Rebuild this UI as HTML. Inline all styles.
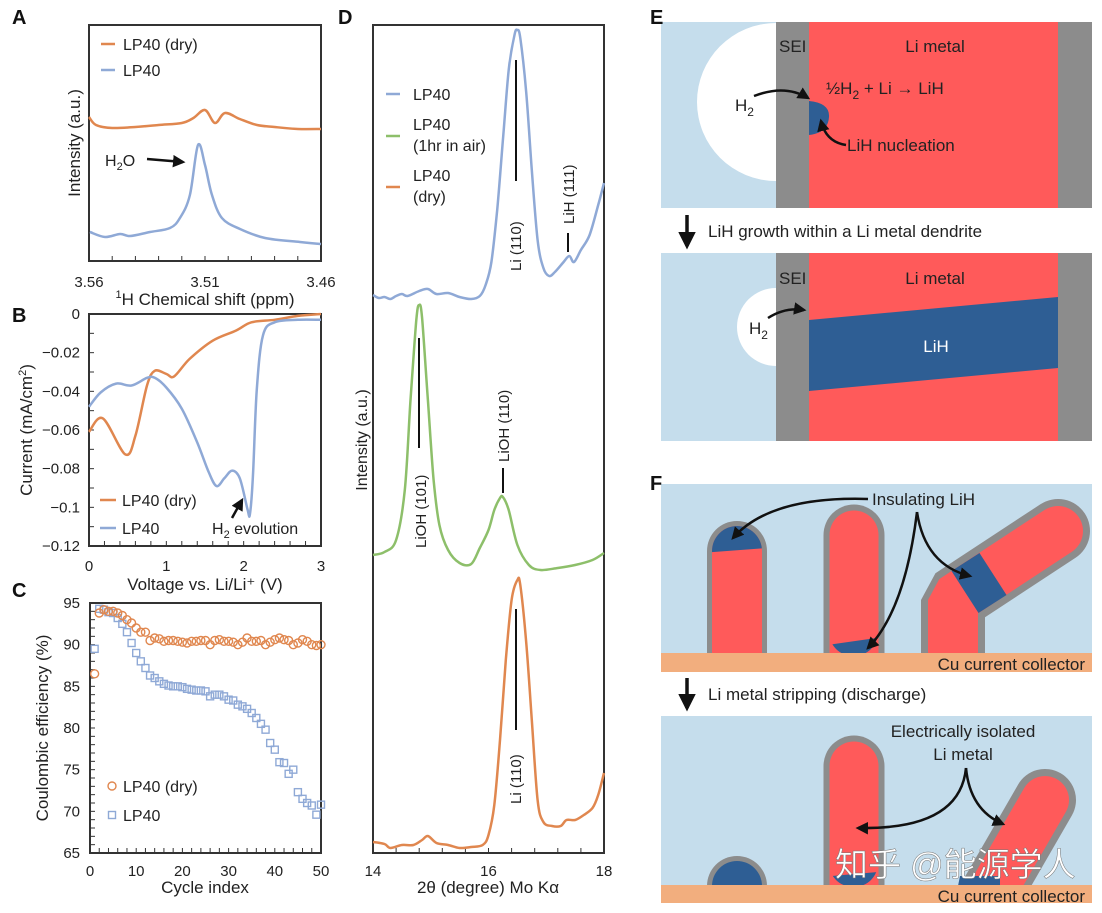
<!DOCTYPE html>
<html><head><meta charset="utf-8"><style>
html,body{margin:0;padding:0;background:#fff}
svg{display:block;font-family:"Liberation Sans","Noto Sans CJK SC",sans-serif}
</style></head><body>
<svg id="fig" width="1102" height="913" viewBox="0 0 1102 913" xmlns="http://www.w3.org/2000/svg">
<defs>
<marker id="ah" viewBox="0 0 10 10" refX="8" refY="5" markerWidth="5" markerHeight="5" orient="auto-start-reverse"><path d="M0,0L10,5L0,10z" fill="#111"/></marker>
<clipPath id="clipE1"><rect x="661" y="22" width="431" height="186"/></clipPath>
<clipPath id="clipE2"><rect x="661" y="253" width="431" height="188"/></clipPath>
<clipPath id="clipF1"><rect x="661" y="484" width="431" height="188"/></clipPath>
<clipPath id="clipF2"><rect x="661" y="716" width="431" height="187"/></clipPath>
<clipPath id="clipD1"><rect x="712" y="526" width="50" height="130" rx="25"/></clipPath>
<clipPath id="clipD2"><rect x="829" y="510" width="49" height="146" rx="24"/></clipPath>
<clipPath id="clipD3"><rect x="829" y="741" width="49" height="146" rx="24"/></clipPath>
</defs>
<g id="charts"></g>

<!-- Panel E -->
<g>
<g clip-path="url(#clipE1)">
<rect x="661" y="22" width="431" height="186" fill="#C5DDEC"/>
<circle cx="776" cy="102" r="79" fill="#fff"/>
<rect x="776" y="22" width="33" height="186" fill="#8C8C8C"/>
<rect x="809" y="22" width="249" height="186" fill="#FF5A5A"/>
<rect x="1058" y="22" width="34" height="186" fill="#8C8C8C"/>
<path d="M809,101 Q830,103 829,117 Q828,133 809,135 Z" fill="#2E5E94"/>
</g>
<text x="779" y="52" font-size="17" fill="#222">SEI</text>
<text x="935" y="52" font-size="17" fill="#222" text-anchor="middle">Li metal</text>
<text x="826" y="94" font-size="17" fill="#222">½H<tspan font-size="12" dy="5">2</tspan><tspan dy="-5"> + Li → LiH</tspan></text>
<text x="735" y="111" font-size="17" fill="#222">H<tspan font-size="12" dy="5">2</tspan></text>
<path d="M754,96 Q785,84 808,98" fill="none" stroke="#111" stroke-width="2.5" marker-end="url(#ah)"/>
<text x="847" y="151" font-size="17" fill="#222">LiH nucleation</text>
<path d="M846,145 Q826,142 821,121" fill="none" stroke="#111" stroke-width="2.5" marker-end="url(#ah)"/>
<line x1="687" y1="215" x2="687" y2="246" stroke="#111" stroke-width="3.5" marker-end="url(#ah)"/>
<text x="708" y="237" font-size="17" fill="#222">LiH growth within a Li metal dendrite</text>
<g clip-path="url(#clipE2)">
<rect x="661" y="253" width="431" height="188" fill="#C5DDEC"/>
<circle cx="776" cy="327" r="39" fill="#fff"/>
<rect x="776" y="253" width="33" height="188" fill="#8C8C8C"/>
<rect x="809" y="253" width="249" height="188" fill="#FF5A5A"/>
<rect x="1058" y="253" width="34" height="188" fill="#8C8C8C"/>
<polygon points="809,320 1058,297 1058,368 809,391" fill="#2E5E94"/>
</g>
<text x="779" y="284" font-size="17" fill="#222">SEI</text>
<text x="935" y="284" font-size="17" fill="#222" text-anchor="middle">Li metal</text>
<text x="749" y="334" font-size="17" fill="#222">H<tspan font-size="12" dy="5">2</tspan></text>
<path d="M768,318 Q785,307 804,310" fill="none" stroke="#111" stroke-width="2.5" marker-end="url(#ah)"/>
<text x="936" y="352" font-size="17" fill="#fff" text-anchor="middle">LiH</text>
</g>

<!-- Panel F -->
<g>
<g clip-path="url(#clipF1)">
<rect x="661" y="484" width="431" height="188" fill="#C5DDEC"/>
<line x1="737" y1="551" x2="737" y2="700" stroke="#8C8C8C" stroke-width="60" stroke-linecap="round"/>
<line x1="737" y1="551" x2="737" y2="700" stroke="#FF5A5A" stroke-width="50" stroke-linecap="round"/>
<polygon points="700,500 780,500 780,547 700,553" fill="#2E5E94" clip-path="url(#clipD1)"/>
<line x1="854" y1="535" x2="854" y2="700" stroke="#8C8C8C" stroke-width="61" stroke-linecap="round"/>
<line x1="854" y1="535" x2="854" y2="700" stroke="#FF5A5A" stroke-width="49" stroke-linecap="round"/>
<polygon points="820,646 890,636 890,660 820,660" fill="#2E5E94" clip-path="url(#clipD2)"/>
<path d="M953,710 L953,600 L1058,531" fill="none" stroke="#8C8C8C" stroke-width="64" stroke-linejoin="bevel" stroke-linecap="round"/>
<path d="M953,710 L953,600 L1058,531" fill="none" stroke="#FF5A5A" stroke-width="50" stroke-linejoin="bevel" stroke-linecap="round"/>
<line x1="965" y1="592" x2="993" y2="574" stroke="#2E5E94" stroke-width="50"/>
<rect x="661" y="653" width="431" height="19" fill="#F2AE7E"/>
</g>
<text x="1085" y="670" font-size="17" fill="#222" text-anchor="end">Cu current collector</text>
<text x="872" y="505" font-size="17" fill="#222">Insulating LiH</text>
<path d="M868,499 Q770,496 733,538" fill="none" stroke="#111" stroke-width="2.5" marker-end="url(#ah)"/>
<path d="M917,512 Q905,610 868,648" fill="none" stroke="#111" stroke-width="2.5" marker-end="url(#ah)"/>
<path d="M917,512 Q925,565 970,576" fill="none" stroke="#111" stroke-width="2.5" marker-end="url(#ah)"/>
<line x1="687" y1="678" x2="687" y2="708" stroke="#111" stroke-width="3.5" marker-end="url(#ah)"/>
<text x="708" y="700" font-size="17" fill="#222">Li metal stripping (discharge)</text>
<g clip-path="url(#clipF2)">
<rect x="661" y="716" width="431" height="187" fill="#C5DDEC"/>
<circle cx="737" cy="886" r="30" fill="#8C8C8C"/>
<circle cx="737" cy="886" r="25" fill="#2E5E94"/>
<line x1="854" y1="766" x2="854" y2="930" stroke="#8C8C8C" stroke-width="61" stroke-linecap="round"/>
<line x1="854" y1="766" x2="854" y2="930" stroke="#FF5A5A" stroke-width="49" stroke-linecap="round"/>
<polygon points="820,877 890,871 890,895 820,895" fill="#2E5E94" clip-path="url(#clipD3)"/>
<line x1="970" y1="930" x2="1045" y2="800" stroke="#8C8C8C" stroke-width="62" stroke-linecap="round"/>
<line x1="970" y1="930" x2="1045" y2="800" stroke="#FF5A5A" stroke-width="48" stroke-linecap="round"/>
<polygon points="960,876 1000,876 1000,886 958,886" fill="#2E5E94"/>
<rect x="661" y="885" width="431" height="18" fill="#F2AE7E"/>
</g>
<text x="1085" y="902" font-size="17" fill="#222" text-anchor="end">Cu current collector</text>
<text x="963" y="737" font-size="17" fill="#222" text-anchor="middle">Electrically isolated</text>
<text x="963" y="760" font-size="17" fill="#222" text-anchor="middle">Li metal</text>
<path d="M966,768 Q960,830 858,828" fill="none" stroke="#111" stroke-width="2.5" marker-end="url(#ah)"/>
<path d="M966,768 Q970,810 1003,824" fill="none" stroke="#111" stroke-width="2.5" marker-end="url(#ah)"/>
<text x="835" y="876" font-size="33" fill="#fff" stroke="#777" stroke-width="0.5">知乎 @能源学人</text>
</g>

<g font-weight="bold" font-size="20" fill="#111">
<text x="12" y="24">A</text>
<text x="12" y="322">B</text>
<text x="12" y="597">C</text>
<text x="338" y="24">D</text>
<text x="650" y="24">E</text>
<text x="650" y="490">F</text>
</g>
</svg>
<script>
// Panel A data (ppm, intensity a.u.)
const aDryX=[3.56,3.557,3.55,3.54,3.53,3.52,3.515,3.51,3.5057,3.5014,3.495,3.4876,3.48,3.47,3.46];
const aDryY=[144,136,133,134,136,138,143,151,138,148,142,136,134,132,132];
const aWetX=[3.5596,3.5531,3.5466,3.5423,3.5337,3.5251,3.5208,3.5165,3.513,3.51,3.507,3.5027,3.4949,3.4841,3.4691,3.46];
const aWetY=[29,24,27,25,29,33,43,66,116,96,66,43,32,23,19,17];
const aTicks=["3.56","3.51","3.46"];
// Panel B data (V, mA/cm2)
const bDryX=[0,0.18,0.47,0.6,0.75,0.85,1.0,1.1,1.3,1.6,1.9,2.1,2.4,2.7,3.0];
const bDryY=[-0.061,-0.054,-0.0726,-0.063,-0.037,-0.0294,-0.031,-0.0323,-0.0233,-0.0138,-0.0086,-0.0043,-0.003,-0.001,0];
const bWetX=[0,0.15,0.35,0.55,0.75,0.85,1.0,1.2,1.4,1.55,1.65,1.75,1.85,1.95,2.05,2.08,2.12,2.17,2.25,2.4,2.7,3.0];
const bWetY=[-0.048,-0.0406,-0.036,-0.037,-0.033,-0.033,-0.038,-0.049,-0.0665,-0.082,-0.089,-0.085,-0.081,-0.085,-0.101,-0.1036,-0.084,-0.039,-0.011,-0.0043,-0.003,-0.003];
const bYTicks=[0,-0.02,-0.04,-0.06,-0.08,-0.1,-0.12];
const bYLabels=["0","−0.02","−0.04","−0.06","−0.08","−0.1","−0.12"];
const bXTicks=[0,1,2,3];
// Panel C data (cycle, CE %)
const cDry=[86.5,93.8,94.2,94,94,93.8,93.5,93,92.6,92,91.5,91.5,90.5,90.8,90.7,90.4,90.5,90.5,90.4,90.3,90.2,90.4,90.4,90.5,90.5,90,90.5,90.6,90.4,90.4,90.3,90,90.3,90.8,90.4,90.4,90.5,90,90.3,90.6,90.8,90.6,90.5,90,90.2,90.6,90.4,90,89.9,90];
const cWet=[89.5,94.3,94.2,93.9,93.8,93.2,92.5,91.5,90.2,89,88,87.2,86.3,86,85.6,85.3,85.1,85,85,84.9,84.7,84.6,84.5,84.5,84.4,83.8,84,84,83.8,83.4,83.3,82.8,82.6,82.3,81.8,81.2,80.5,79.8,78.2,77.4,75.9,75.8,74.5,75,72.3,71.5,71,70.7,69.6,70.8];
const cYTicks=[65,70,75,80,85,90,95];
const cXTicks=[0,10,20,30,40,50];
// Panel D data (2theta, intensity a.u.)
const dBlueX=[14.0,14.1,14.2,14.3,14.4,14.5,14.6,14.8,14.95,15.1,15.3,15.5,15.7,15.85,15.95,16.05,16.15,16.25,16.35,16.45,16.5,16.55,16.65,16.75,16.85,16.95,17.05,17.15,17.3,17.4,17.48,17.6,17.75,17.9,18.0];
const dBlueY=[558,555,556,554,557,559,557,562,564,559,560,556,554,557,568,591,643,713,783,818,823,815,763,683,613,585,577,581,591,597,591,603,618,648,670];
const dGreenX=[14.0,14.2,14.4,14.55,14.65,14.75,14.8,14.85,14.95,15.05,15.15,15.3,15.5,15.7,15.85,16.0,16.1,16.2,16.25,16.35,16.5,16.7,16.9,17.2,17.5,17.8,18.0];
const dGreenY=[298,301,313,363,453,533,548,535,453,373,328,303,290,289,305,323,343,355,356,343,308,288,283,285,288,293,300];
const dOrangeX=[14.0,14.2,14.3,14.5,14.7,14.85,14.95,15.1,15.3,15.5,15.7,15.9,16.0,16.1,16.2,16.3,16.4,16.5,16.55,16.65,16.75,16.85,16.95,17.1,17.25,17.35,17.5,17.65,17.8,17.9,18.0];
const dOrangeY=[11,9,5,8,8,13,17,10,8,5,6,8,18,48,113,193,253,273,268,213,133,53,31,27,27,33,33,38,45,58,80];
const dXTicks=[14,16,18];

const ORANGE="#E0874F",BLUE="#8FA9D6",GREEN="#8DBF6A";
const NS="http://www.w3.org/2000/svg";
const root=document.getElementById('charts');
function mk(tag,attrs,parent){const e=document.createElementNS(NS,tag);for(const k in attrs)e.setAttribute(k,attrs[k]);(parent||root).appendChild(e);return e;}
function lin(d0,d1,r0,r1){return v=>r0+(v-d0)/(d1-d0)*(r1-r0);}
function smooth(pts){let d="M"+pts[0][0].toFixed(1)+","+pts[0][1].toFixed(1);for(let i=0;i<pts.length-1;i++){const p0=pts[i-1]||pts[i],p1=pts[i],p2=pts[i+1],p3=pts[i+2]||p2;const c1=[p1[0]+(p2[0]-p0[0])/6,p1[1]+(p2[1]-p0[1])/6],c2=[p2[0]-(p3[0]-p1[0])/6,p2[1]-(p3[1]-p1[1])/6];d+="C"+c1[0].toFixed(1)+","+c1[1].toFixed(1)+" "+c2[0].toFixed(1)+","+c2[1].toFixed(1)+" "+p2[0].toFixed(1)+","+p2[1].toFixed(1);}return d;}
function txt(x,y,s,attrs,parent){const t=mk('text',Object.assign({x:x,y:y,'font-size':15,fill:'#222'},attrs||{}),parent);t.textContent=s;return t;}
function frame(x0,y0,x1,y1,g){const r=mk('rect',{x:x0,y:y0,width:x1-x0,height:y1-y0,fill:'none',stroke:'#333','stroke-width':2},g);}

// ---- Panel A ----
{const g=mk('g',{});
const X=lin(3.56,3.46,89,321),Y=lin(0,236,261,25);
for(let i=0;i<=10;i++){const v=3.56-i*0.01;mk('line',{x1:X(v),x2:X(v),y1:261,y2:256,stroke:'#333','stroke-width':1},g);}
frame(89,25,321,261,g);
aTicks.forEach(t=>{const l=txt(X(+t),287,t,{'text-anchor':'middle'},g);});
const p1=mk('path',{d:smooth(aDryX.map((v,i)=>[X(v),Y(aDryY[i])])),fill:'none',stroke:ORANGE,'stroke-width':2.5},g);

const p2=mk('path',{d:smooth(aWetX.map((v,i)=>[X(v),Y(aWetY[i])])),fill:'none',stroke:BLUE,'stroke-width':2.5},g);

const xt=txt(205,305,'',{'text-anchor':'middle','font-size':17},g);xt.innerHTML='<tspan font-size="11" dy="-7">1</tspan><tspan dy="7">H Chemical shift (ppm)</tspan>';

const yt=txt(0,0,'Intensity (a.u.)',{'text-anchor':'middle','font-size':17,transform:'translate(80,143) rotate(-90)'},g);

mk('line',{x1:101,x2:115,y1:44,y2:44,stroke:ORANGE,'stroke-width':2.5},g);txt(123,50,'LP40 (dry)',{'font-size':16},g);
mk('line',{x1:101,x2:115,y1:70,y2:70,stroke:BLUE,'stroke-width':2.5},g);txt(123,76,'LP40',{'font-size':16},g);
const h=txt(105,166,'',{'font-size':16},g);h.innerHTML='H<tspan font-size="11" dy="4">2</tspan><tspan dy="-4">O</tspan>';
mk('line',{x1:147,x2:183,y1:159,y2:162,stroke:'#111','stroke-width':2.5,'marker-end':'url(#ah)'},g);
}
// ---- Panel B ----
{const g=mk('g',{});
const X=lin(0,3,89,321),Y=lin(0,-0.12,314,546);
for(let v=0;v<=3.001;v+=0.2)mk('line',{x1:X(v),x2:X(v),y1:546,y2:541,stroke:'#333','stroke-width':1},g);
for(let v=0;v>=-0.1201;v-=0.01)mk('line',{x1:89,x2:94,y1:Y(v),y2:Y(v),stroke:'#333','stroke-width':1},g);
frame(89,314,321,546,g);
bYTicks.forEach((v,i)=>{const l=txt(80,Y(v)+5,bYLabels[i],{'text-anchor':'end'},g);});
bXTicks.forEach(v=>{const l=txt(X(v),571,String(v),{'text-anchor':'middle'},g);});
const p1=mk('path',{d:smooth(bDryX.map((v,i)=>[X(v),Y(bDryY[i])])),fill:'none',stroke:ORANGE,'stroke-width':2.5},g);

const p2=mk('path',{d:smooth(bWetX.map((v,i)=>[X(v),Y(bWetY[i])])),fill:'none',stroke:BLUE,'stroke-width':2.5},g);

const xt=txt(205,590,'Voltage vs. Li/Li⁺ (V)',{'text-anchor':'middle','font-size':17},g);
const yt=txt(0,0,'',{'text-anchor':'middle','font-size':17,transform:'translate(32,430) rotate(-90)'},g);yt.innerHTML='Current (mA/cm<tspan font-size="11" dy="-6">2</tspan><tspan dy="6">)</tspan>';

mk('line',{x1:100,x2:116,y1:500,y2:500,stroke:ORANGE,'stroke-width':2.5},g);txt(122,506,'LP40 (dry)',{'font-size':16},g);
mk('line',{x1:100,x2:116,y1:528,y2:528,stroke:BLUE,'stroke-width':2.5},g);txt(122,534,'LP40',{'font-size':16},g);
const h=txt(212,534,'',{'font-size':16},g);h.innerHTML='H<tspan font-size="11" dy="4">2</tspan><tspan dy="-4"> evolution</tspan>';
mk('line',{x1:232,x2:242,y1:518,y2:500,stroke:'#111','stroke-width':2.5,'marker-end':'url(#ah)'},g);
}
// ---- Panel C ----
{const g=mk('g',{});
const X=lin(0,50,90,321),Y=lin(65,95,853,603);
for(let v=0;v<=50;v+=2)mk('line',{x1:X(v),x2:X(v),y1:853,y2:848,stroke:'#333','stroke-width':1},g);
for(let v=65;v<=95;v+=1)mk('line',{x1:90,x2:95,y1:Y(v),y2:Y(v),stroke:'#333','stroke-width':1},g);
frame(90,603,321,853,g);
cYTicks.forEach(v=>{const l=txt(80,Y(v)+5,String(v),{'text-anchor':'end'},g);});
cXTicks.forEach(v=>{const l=txt(X(v),876,String(v),{'text-anchor':'middle'},g);});
cWet.forEach((v,i)=>{const r=mk('rect',{x:X(i+1)-3.5,y:Y(v)-3.5,width:7,height:7,fill:'none',stroke:BLUE,'stroke-width':1.4},g);
});
cDry.forEach((v,i)=>{const c=mk('circle',{cx:X(i+1),cy:Y(v),r:4,fill:'none',stroke:ORANGE,'stroke-width':1.4},g);
});
const xt=txt(205,893,'Cycle index',{'text-anchor':'middle','font-size':17},g);
const yt=txt(0,0,'Coulombic efficiency (%)',{'text-anchor':'middle','font-size':17,transform:'translate(48,728) rotate(-90)'},g);
mk('circle',{cx:112,cy:786,r:4,fill:'none',stroke:ORANGE,'stroke-width':1.4},g);txt(123,792,'LP40 (dry)',{'font-size':16},g);
mk('rect',{x:108.5,y:811.5,width:7,height:7,fill:'none',stroke:BLUE,'stroke-width':1.4},g);txt(123,821,'LP40',{'font-size':16},g);
}
// ---- Panel D ----
{const g=mk('g',{});
const X=lin(14,18,373,604),Y=lin(0,828,853,25);
for(let v=14;v<=18.001;v+=0.4)mk('line',{x1:X(v),x2:X(v),y1:853,y2:848,stroke:'#333','stroke-width':1},g);
frame(373,25,604,853,g);
dXTicks.forEach(v=>{const l=txt(X(v),876,String(v),{'text-anchor':'middle'},g);});
[[dBlueX,dBlueY,BLUE,'series-lp40'],[dGreenX,dGreenY,GREEN,'series-lp40-air'],[dOrangeX,dOrangeY,ORANGE,'series-lp40-dry']].forEach(s=>{
const p=mk('path',{d:smooth(s[0].map((v,i)=>[X(v),Y(s[1][i])])),fill:'none',stroke:s[2],'stroke-width':2.5},g);
});
const xt=txt(488,893,'2θ (degree) Mo Kα',{'text-anchor':'middle','font-size':17},g);
const yt=txt(0,0,'Intensity (a.u.)',{'text-anchor':'middle','font-size':16,transform:'translate(367,440) rotate(-90)'},g);
mk('line',{x1:516,x2:516,y1:60,y2:181,stroke:'#111','stroke-width':2},g);
txt(0,0,'Li (110)',{'font-size':15,transform:'translate(521,271) rotate(-90)'},g);
mk('line',{x1:568,x2:568,y1:233,y2:252,stroke:'#111','stroke-width':2},g);
txt(0,0,'LiH (111)',{'font-size':15,transform:'translate(574,224) rotate(-90)'},g);
mk('line',{x1:419,x2:419,y1:338,y2:448,stroke:'#111','stroke-width':2},g);
txt(0,0,'LiOH (101)',{'font-size':15,transform:'translate(426,548) rotate(-90)'},g);
mk('line',{x1:503,x2:503,y1:468,y2:493,stroke:'#111','stroke-width':2},g);
txt(0,0,'LiOH (110)',{'font-size':15,transform:'translate(509,462) rotate(-90)'},g);
mk('line',{x1:516,x2:516,y1:609,y2:730,stroke:'#111','stroke-width':2},g);
txt(0,0,'Li (110)',{'font-size':15,transform:'translate(521,804) rotate(-90)'},g);
mk('line',{x1:386,x2:400,y1:94,y2:94,stroke:BLUE,'stroke-width':2.5},g);txt(413,100,'LP40',{'font-size':16},g);
mk('line',{x1:386,x2:400,y1:136,y2:136,stroke:GREEN,'stroke-width':2.5},g);txt(413,130,'LP40',{'font-size':16},g);txt(413,151,'(1hr in air)',{'font-size':16},g);
mk('line',{x1:386,x2:400,y1:187,y2:187,stroke:ORANGE,'stroke-width':2.5},g);txt(413,181,'LP40',{'font-size':16},g);txt(413,202,'(dry)',{'font-size':16},g);
}
</script>
</body></html>
